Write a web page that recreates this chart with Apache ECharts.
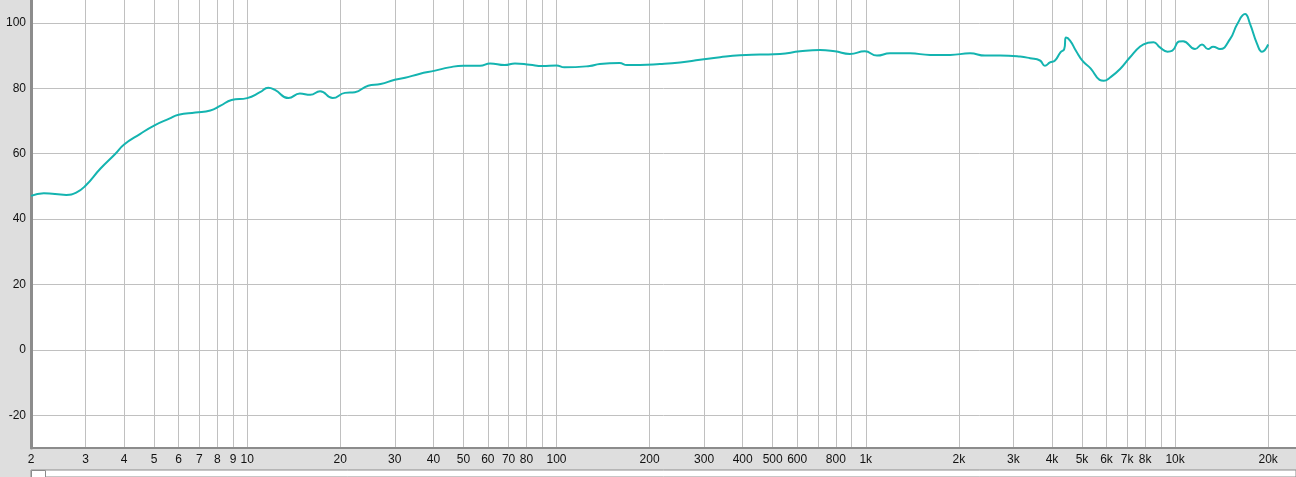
<!DOCTYPE html>
<html>
<head>
<meta charset="utf-8">
<script src="https://cdn.jsdelivr.net/npm/echarts@6/dist/echarts.min.js"></script>
<style>
  html, body { margin: 0; padding: 0; background: #dedede; }
  #chart { width: 1296px; height: 477px; }
</style>
</head>
<body>
<div id="chart"></div>
<script>
// frequency (Hz) and level
var freqs = [2, 2.2, 2.6, 2.8, 3, 3.35, 3.75, 4, 4.5, 5, 5.6, 6, 6.8, 7.6, 8.2, 8.9,
  10, 11, 11.7, 12.3, 13.6, 14.8, 16, 17.2, 18.9, 20.7, 22.3, 24.6, 27, 30, 32.4, 36,
  40.5, 45, 50, 56.6, 61, 68, 73.4, 82, 90, 100, 106, 128, 138, 160, 169, 186, 216,
  251, 291, 338, 392, 455, 528, 613, 711, 794, 889, 993, 1087, 1197, 1390, 1614, 1873,
  2174, 2429, 2717, 3154, 3400, 3657, 3795, 3940, 4090, 4260, 4380, 4440, 4575, 4780,
  5040, 5330, 5700, 5880, 6165, 6640, 7150, 7710, 8160, 8520, 8935, 9450, 9800, 10300,
  10610, 11600, 12220, 12780, 13270, 13970, 15070, 15860, 16830, 17470, 18410, 19100, 20000];
var levels = [47.1, 47.9, 47.4, 48.1, 50.2, 55.4, 60, 62.8, 66, 68.6, 70.7, 71.9, 72.6, 73.2, 74.7, 76.4,
  77.0, 78.8, 80.2, 79.5, 77.0, 78.4, 78.0, 79.1, 77.0, 78.6, 78.8, 80.8, 81.3, 82.6, 83.2, 84.4,
  85.4, 86.4, 86.9, 86.9, 87.6, 87.1, 87.6, 87.2, 86.8, 87.0, 86.4, 86.8, 87.4, 87.7, 87.1, 87.1, 87.4,
  87.9, 88.7, 89.5, 90.1, 90.3, 90.5, 91.3, 91.7, 91.3, 90.5, 91.3, 90.0, 90.7, 90.7, 90.2, 90.2,
  90.7, 90.0, 90.0, 89.7, 89.2, 88.5, 86.9, 87.9, 88.5, 91, 92, 95.5, 94.6, 91.5,
  88.2, 86.1, 82.6, 82.3, 83.3, 85.9, 89.5, 92.8, 93.9, 94.1, 92.5, 91.2, 91.5, 94.3,
  94.4, 92, 93.4, 92, 92.7, 92, 95.1, 99.5, 102.7, 99.7, 93.6, 91.2, 93.4];

var xGridValues = [2, 3, 4, 5, 6, 7, 8, 9, 10, 20, 30, 40, 50, 60, 70, 80, 90, 100,
  200, 300, 400, 500, 600, 700, 800, 900, 1000, 2000, 3000, 4000, 5000, 6000, 7000,
  8000, 9000, 10000, 20000];
var xLabelValues = [2, 3, 4, 5, 6, 7, 8, 9, 10, 20, 30, 40, 50, 60, 70, 80, 100,
  200, 300, 400, 500, 600, 800, 1000, 2000, 3000, 4000, 5000, 6000, 7000, 8000, 10000, 20000];
var yTickValues = [-20, 0, 20, 40, 60, 80, 100];

var chart = echarts.init(document.getElementById('chart'));

var points = freqs.map(function (f, i) { return [f, levels[i]]; });

chart.setOption({
  animation: false,
  backgroundColor: '#dedede',
  textStyle: { fontFamily: 'Liberation Sans, Arial, sans-serif' },
  grid: {
    left: 31, right: 0, top: 0, bottom: 29,
    show: true, backgroundColor: '#ffffff', borderWidth: 0
  },
  xAxis: {
    type: 'log',
    logBase: 10,
    min: 2,
    max: 24600,
    axisLine: { show: true, onZero: false, lineStyle: { color: '#8c8c8c', width: 2 } },
    axisTick: { show: false, customValues: xGridValues },
    splitLine: { show: true, lineStyle: { color: '#c0c0c0', width: 1 } },
    axisLabel: {
      customValues: xLabelValues,
      color: '#111',
      fontSize: 12,
      margin: 6,
      formatter: function (v) {
        return v >= 1000 ? (v / 1000) + 'k' : String(v);
      }
    }
  },
  yAxis: {
    type: 'value',
    min: -30,
    max: 107,
    axisLine: { show: true, onZero: false, lineStyle: { color: '#8c8c8c', width: 3 } },
    axisTick: { show: false, customValues: yTickValues },
    splitLine: { show: true, lineStyle: { color: '#c0c0c0', width: 1 } },
    axisLabel: {
      customValues: yTickValues,
      color: '#111',
      fontSize: 12,
      margin: 5
    }
  },
  graphic: [
    {
      type: 'rect',
      shape: { x: 31, y: 470, width: 1265, height: 7 },
      style: { fill: '#ffffff', stroke: '#8c8c8c', lineWidth: 1 },
      silent: true
    },
    {
      type: 'rect',
      shape: { x: 31.5, y: 470.5, width: 14, height: 7 },
      style: { fill: '#ffffff', stroke: '#8c8c8c', lineWidth: 1 },
      silent: true
    }
  ],
  series: [
    {
      type: 'line',
      data: points,
      showSymbol: false,
      smooth: 0.5,
      lineStyle: { color: '#14b4b0', width: 2 },
      itemStyle: { color: '#14b4b0' }
    }
  ]
});
</script>
</body>
</html>
